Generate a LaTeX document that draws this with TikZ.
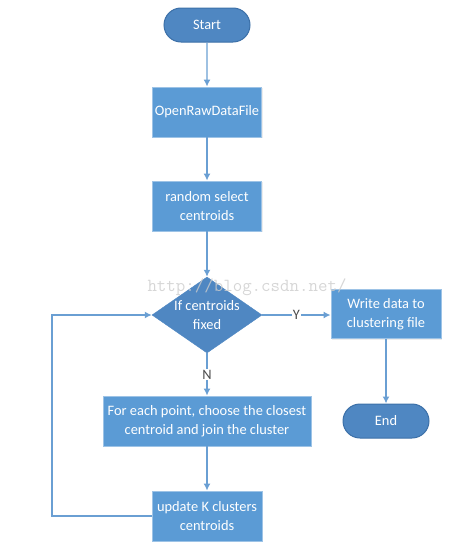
\documentclass[tikz,border=0pt]{standalone}
\usepackage{fontspec}
\setmainfont{Carlito}
\usetikzlibrary{shapes.geometric, shapes.misc, arrows.meta, shadows}
\definecolor{boxblue}{HTML}{5B9BD5}
\definecolor{termblue}{HTML}{4F87C2}
\definecolor{termline}{HTML}{3C70A8}
\definecolor{lineblue}{HTML}{6A9FD3}

\tikzset{
    procbox/.style={rectangle, fill=boxblue, draw=boxblue!60!white, line width=0.8pt, text=white, align=center, inner sep=0pt, drop shadow={shadow xshift=1pt, shadow yshift=-1pt, fill=black!15}},
    termbox/.style={rounded rectangle, fill=termblue, draw=termline, line width=1pt, text=white, inner sep=0pt, minimum width=86pt, minimum height=34pt},
    decbox/.style={diamond, fill=termblue, draw=termblue, text=white, align=center, inner sep=0pt, minimum width=110pt, minimum height=76pt, aspect=1.45},
    arr/.style={draw=lineblue, line width=1.4pt, -{Latex[length=7pt, width=7pt]}}
}

\begin{document}
\begin{tikzpicture}[x=1pt, y=-1pt, font=\fontsize{14.4}{18.5}\selectfont]
    \useasboundingbox (0,0) rectangle (474,554);
    % main column
    \node[termbox] (start) at (207,25) {Start};
    \node[procbox, minimum width=109pt, minimum height=50pt] (open) at (207,112) {OpenRawDataFile};
    \node[procbox, minimum width=109pt, minimum height=50pt] (rand) at (207,206) {random select\\centroids};
    \node[decbox] (fixed) at (207,315) {If centroids\\fixed};
    \node[procbox, minimum width=208pt, minimum height=50pt] (each) at (207,421) {For each point, choose the closest\\centroid and join the cluster};
    \node[procbox, minimum width=110pt, minimum height=50pt] (upd) at (207,516) {update K clusters\\centroids};
    % right column
    \node[procbox, minimum width=110pt, minimum height=49pt] (write) at (386,314) {Write data to\\clustering file};
    \node[termbox] (end) at (386,421) {End};
    % connectors
    \draw[arr] (start) -- (open);
    \draw[arr] (open) -- (rand);
    \draw[arr] (rand) -- (fixed);
    \draw[arr] (fixed.east) -- node[fill=white, inner sep=1pt, text=black!70] {Y} (write.west |- fixed.east);
    \draw[arr] (fixed) -- node[fill=white, inner sep=1pt, text=black!70] {N} (each);
    \draw[arr] (each) -- (upd);
    \draw[arr] (write) -- (end);
    \coordinate (loop) at (52,516);
    \draw[arr] (upd.west) -- (loop) |- (fixed.west);
    % watermark
    \node[text=black!20, text opacity=0.8, font=\ttfamily\fontsize{18.4}{18}\selectfont] (mark) at (247,287) {http://blog.csdn.net/};
\end{tikzpicture}
\end{document}
